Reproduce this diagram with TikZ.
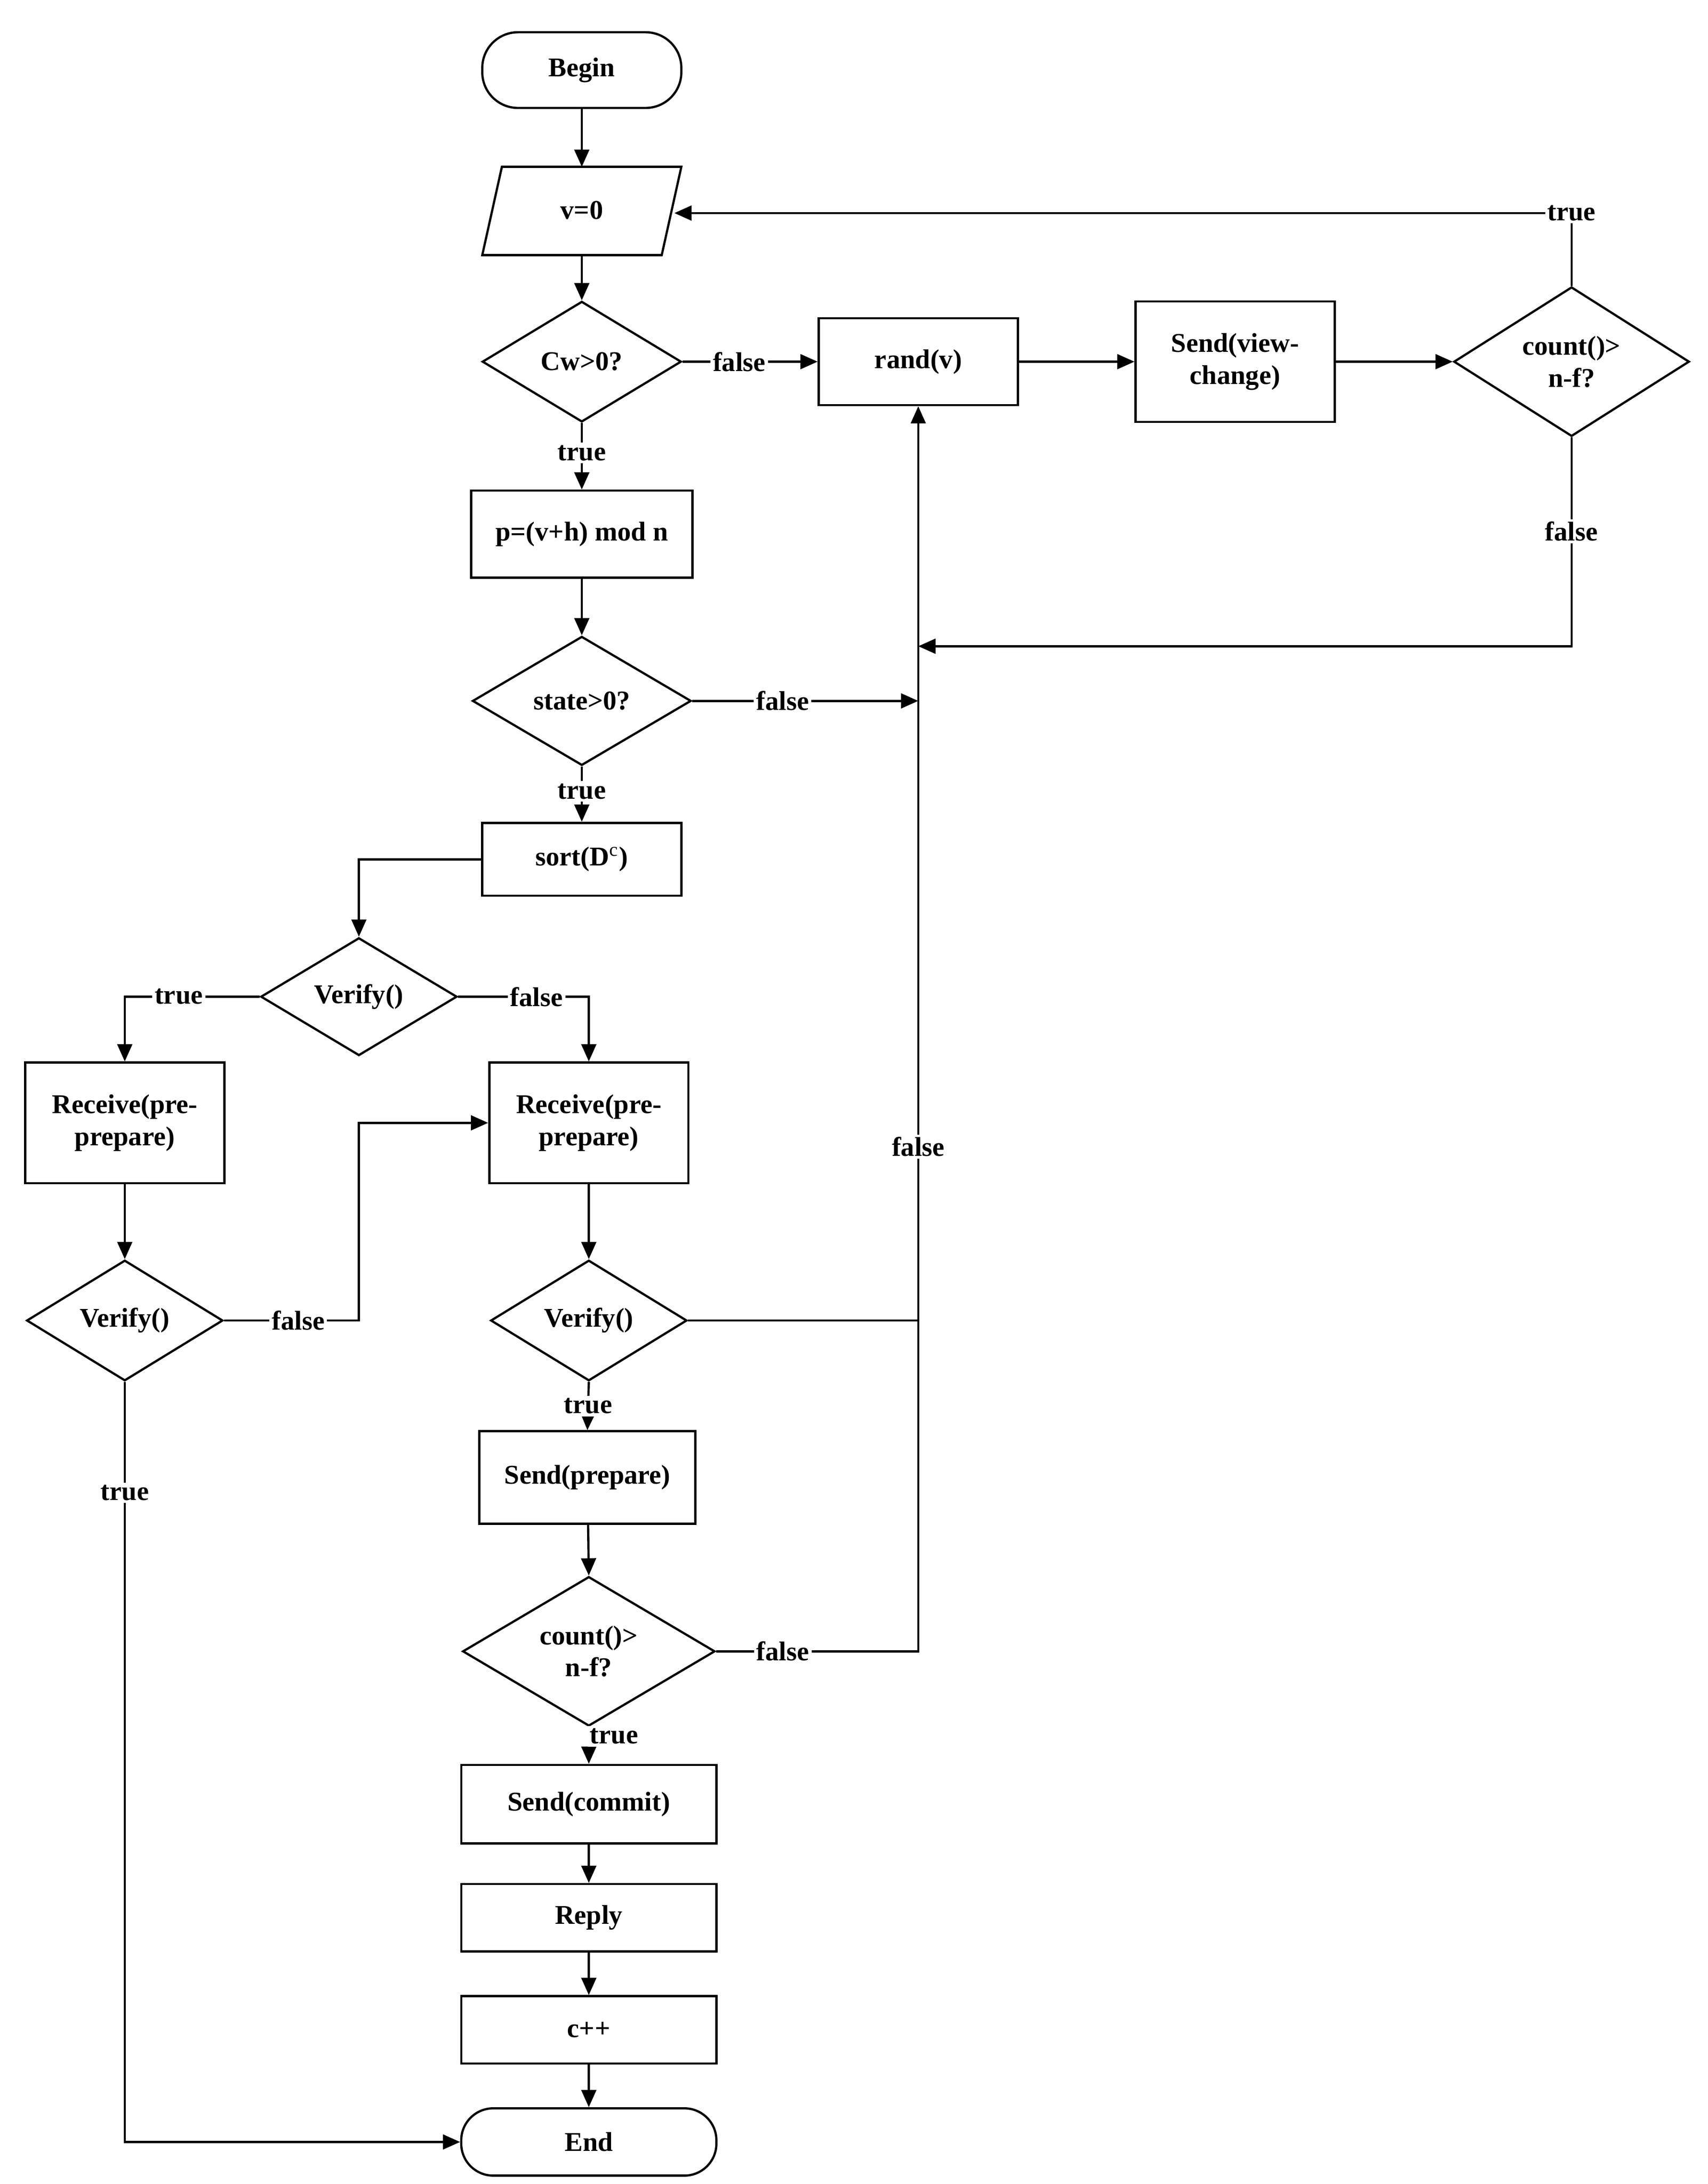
\documentclass[tikz,border=0pt]{standalone}
\usepackage{fontspec}
\setmainfont{Liberation Serif}
\usetikzlibrary{shapes.geometric,arrows.meta}
\begin{document}
\begin{tikzpicture}[x=0.02cm,y=-0.02cm,
 every node/.style={font=\fontsize{11}{13}\selectfont\bfseries},
 box/.style={draw,line width=0.9pt,rectangle,inner sep=0pt,align=center},
 dia/.style={draw,line width=0.9pt,diamond,inner sep=0pt,align=center},
 lab/.style={fill=white,inner sep=1pt},
 ar/.style={line width=0.9pt,-{Triangle[length=7pt,width=6pt]}},
 ln/.style={line width=0.9pt}]
\useasboundingbox (0,0) rectangle (1218,1558);
\node[draw,line width=0.9pt,rounded corners=14.5pt,minimum width=142*0.02cm,minimum height=54*0.02cm] (begin) at (415,50) {Begin};
\node[minimum width=120*0.02cm,minimum height=62*0.02cm,inner sep=0pt] (v0) at (415,150) {v=0};
\draw[line width=0.9pt] (344,182) -- (358,119) -- (486,119) -- (472,182) -- cycle;
\node[dia,minimum width=142*0.02cm,minimum height=86*0.02cm] (cw) at (415,258) {Cw>0?};
\node[box,minimum width=158*0.02cm,minimum height=62*0.02cm] (p) at (415,381) {p=(v+h) mod n};
\node[dia,minimum width=156*0.02cm,minimum height=92*0.02cm] (st) at (415,500) {state>0?};
\node[box,minimum width=142*0.02cm,minimum height=52*0.02cm] (sort) at (415,613) {sort(D$^{\mathrm{c}}$)};
\node[dia,minimum width=140*0.02cm,minimum height=84*0.02cm] (v1) at (256,711) {Verify()};
\node[box,minimum width=142*0.02cm,minimum height=86*0.02cm] (rl) at (89,801) {Receive(pre-\\prepare)};
\node[box,minimum width=142*0.02cm,minimum height=86*0.02cm] (rr) at (420,801) {Receive(pre-\\prepare)};
\node[dia,minimum width=140*0.02cm,minimum height=86*0.02cm] (vl) at (89,942) {Verify()};
\node[dia,minimum width=140*0.02cm,minimum height=86*0.02cm] (vr) at (420,942) {Verify()};
\node[box,minimum width=154*0.02cm,minimum height=66*0.02cm] (sp) at (419,1054) {Send(prepare)};
\node[dia,minimum width=180*0.02cm,minimum height=104*0.02cm] (cr) at (420,1178) {count()>\\n-f?};
\node[box,minimum width=182*0.02cm,minimum height=56*0.02cm] (sc) at (420,1287) {Send(commit)};
\node[box,minimum width=182*0.02cm,minimum height=48*0.02cm] (rep) at (420,1368) {Reply};
\node[box,minimum width=182*0.02cm,minimum height=48*0.02cm] (cpp) at (420,1448) {c++};
\node[draw,line width=0.9pt,rounded corners=13pt,minimum width=182*0.02cm,minimum height=48*0.02cm] (end) at (420,1528) {End};
\node[box,minimum width=142*0.02cm,minimum height=62*0.02cm] (rand) at (655,258) {rand(v)};
\node[box,minimum width=142*0.02cm,minimum height=86*0.02cm] (svc) at (881,258) {Send(view-\\change)};
\node[dia,minimum width=168*0.02cm,minimum height=106*0.02cm] (ct) at (1121,258) {count()>\\n-f?};
\coordinate (j1) at (655,500);
\coordinate (j2) at (655,461);
\coordinate (j3) at (655,942);
\coordinate (j4) at (655,1178);
\draw[ar] (begin) -- (v0.north|-0,119);
\draw[ar] (415,182) -- (cw.north);
\draw[ar] (cw.south) -- node[lab,pos=0.45]{true} (p.north);
\draw[ar] (p) -- (st.north);
\draw[ar] (st.south) -- node[lab,pos=0.45]{true} (sort.north);
\draw[ar] (sort.west) -| (v1.north);
\draw[ar] (v1.west) -| node[lab,pos=0.3]{true} (rl.north);
\draw[ar] (v1.east) -| node[lab,pos=0.3]{false} (rr.north);
\draw[ar] (rl) -- (vl.north);
\draw[ar] (rr) -- (vr.north);
\draw[ar] (vl.east) -- node[lab,pos=0.55]{false} (256,942) |- (rr.west);
\draw[ar] (vl.south) |- node[lab,pos=0.073]{true} (end.west);
\draw[ar] (vr.east) -- (j3) -- node[lab,pos=0.19]{false} (rand.south);
\draw[ar] (vr.south) -- node[lab,pos=0.5]{true} (sp.north);
\draw[ar] (sp) -- (cr.north);
\draw[ln] (cr.east) -- node[lab,pos=0.33]{false} (j4) -- (j3);
\draw[ar] (cr.south) -- node[lab,right=-1pt,pos=0.25]{true} (sc.north);
\draw[ar] (sc) -- (rep);
\draw[ar] (rep) -- (cpp);
\draw[ar] (cpp) -- (end);
\draw[ar] (st.east) -- node[lab,pos=0.4]{false} (j1);
\draw[ar] (cw.east) -- node[lab,pos=0.42]{false} (rand.west);
\draw[ar] (rand) -- (svc);
\draw[ar] (svc) -- (ct.west);
\draw[ar] (ct.north) -- node[lab,pos=1]{true} (1121,152) -- (481,152);
\draw[ar] (ct.south) -- node[lab,pos=0.45]{false} (1121,461) -- (j2);
\end{tikzpicture}
\end{document}
